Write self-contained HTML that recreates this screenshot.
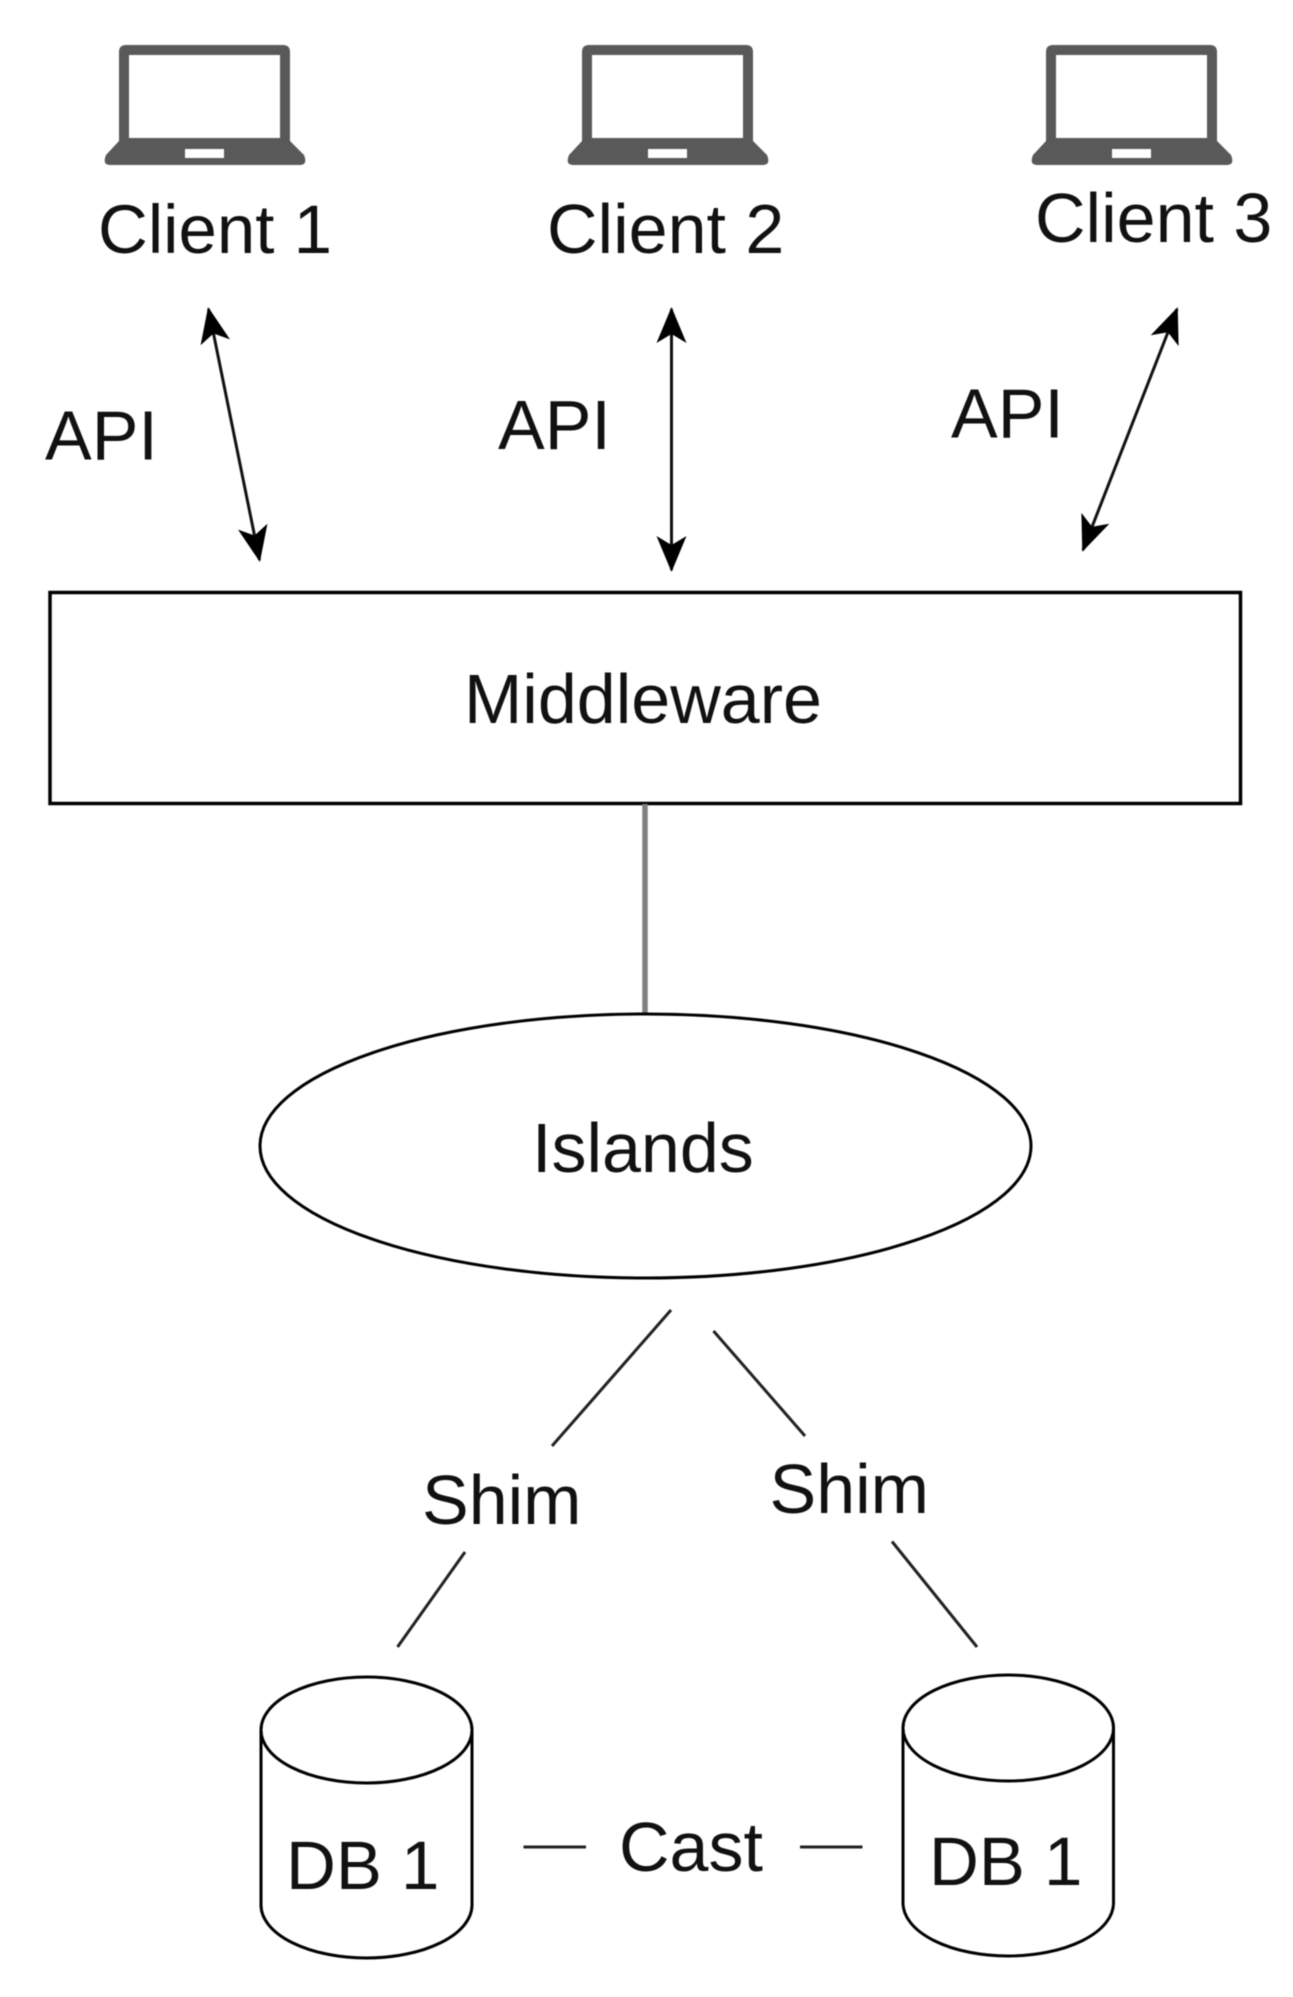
<!DOCTYPE html>
<html>
<head>
<meta charset="utf-8">
<title>Architecture diagram</title>
<style>
html,body{margin:0;padding:0;background:#fff;width:1293px;height:1997px;overflow:hidden}
svg{display:block;filter:blur(.5px)}
text{font-family:"Liberation Sans",Arial,sans-serif;font-size:70px;fill:#111}
</style>
</head>
<body>
<svg width="1293" height="1997" viewBox="0 0 1293 1997" xmlns="http://www.w3.org/2000/svg">
<defs>
<marker id="a" viewBox="-2 -18 40 36" refX="34" refY="0" markerWidth="40" markerHeight="36" markerUnits="userSpaceOnUse" orient="auto-start-reverse">
<path d="M0 -15 L36 0 L0 15 L9 0 Z" fill="#000"/>
</marker>
<g id="laptop">
<path fill-rule="evenodd" fill="#595959" d="M126 45H283Q290 45 290 52V141L304 155Q308 165 300 165H110Q102 165 106 155L119 141V52Q119 45 126 45ZM129 55V138H280V55ZM185 149V158H224V149Z"/>
</g>
</defs>

<use href="#laptop"/>
<use href="#laptop" x="463"/>
<use href="#laptop" x="927"/>

<text x="98" y="253" style="font-size:69px">Client 1</text>
<text x="547" y="253">Client 2</text>
<text x="1035" y="242">Client 3</text>

<text x="45" y="459.500">API</text>
<text x="498" y="449">API</text>
<text x="951" y="437.500">API</text>

<g stroke="#111" stroke-width="3" fill="none">
<line x1="208.500" y1="309" x2="259.500" y2="560" marker-start="url(#a)" marker-end="url(#a)"/>
<line x1="671.500" y1="309" x2="671.500" y2="570" marker-start="url(#a)" marker-end="url(#a)"/>
<line x1="1177" y1="309" x2="1083" y2="550" marker-start="url(#a)" marker-end="url(#a)"/>
</g>

<rect x="50" y="592.500" width="1190.500" height="211" fill="#fff" stroke="#000" stroke-width="3.500"/>
<text x="464" y="723">Middleware</text>

<line x1="645" y1="804" x2="645" y2="1015" stroke="#808080" stroke-width="5.500"/>

<ellipse cx="645.500" cy="1146" rx="385.500" ry="132" fill="#fff" stroke="#000" stroke-width="3"/>
<text x="532" y="1172">Islands</text>

<g stroke="#222" stroke-width="3" fill="none">
<line x1="671" y1="1310" x2="552" y2="1446"/>
<line x1="713.500" y1="1331" x2="805" y2="1436"/>
<line x1="465" y1="1552" x2="397.500" y2="1647"/>
<line x1="892" y1="1541.500" x2="977" y2="1647"/>
<line x1="523.500" y1="1847" x2="586" y2="1847"/>
<line x1="800" y1="1847" x2="862.500" y2="1847"/>
</g>

<text x="422" y="1524">Shim</text>
<text x="769.500" y="1513">Shim</text>

<g fill="#fff" stroke="#000" stroke-width="3">
<path d="M261 1730A105.500 53 0 0 1 472 1730V1905A105.500 53 0 0 1 261 1905Z"/>
<path d="M261 1730A105.500 53 0 0 0 472 1730" fill="none"/>
<path d="M903 1728A105.250 53 0 0 1 1113.500 1728V1903A105.250 53 0 0 1 903 1903Z"/>
<path d="M903 1728A105.250 53 0 0 0 1113.500 1728" fill="none"/>
</g>

<text x="286" y="1889" style="font-size:69px">DB 1</text>
<text x="929" y="1885" style="font-size:69px">DB 1</text>
<text x="619" y="1871">Cast</text>
</svg>
</body>
</html>
